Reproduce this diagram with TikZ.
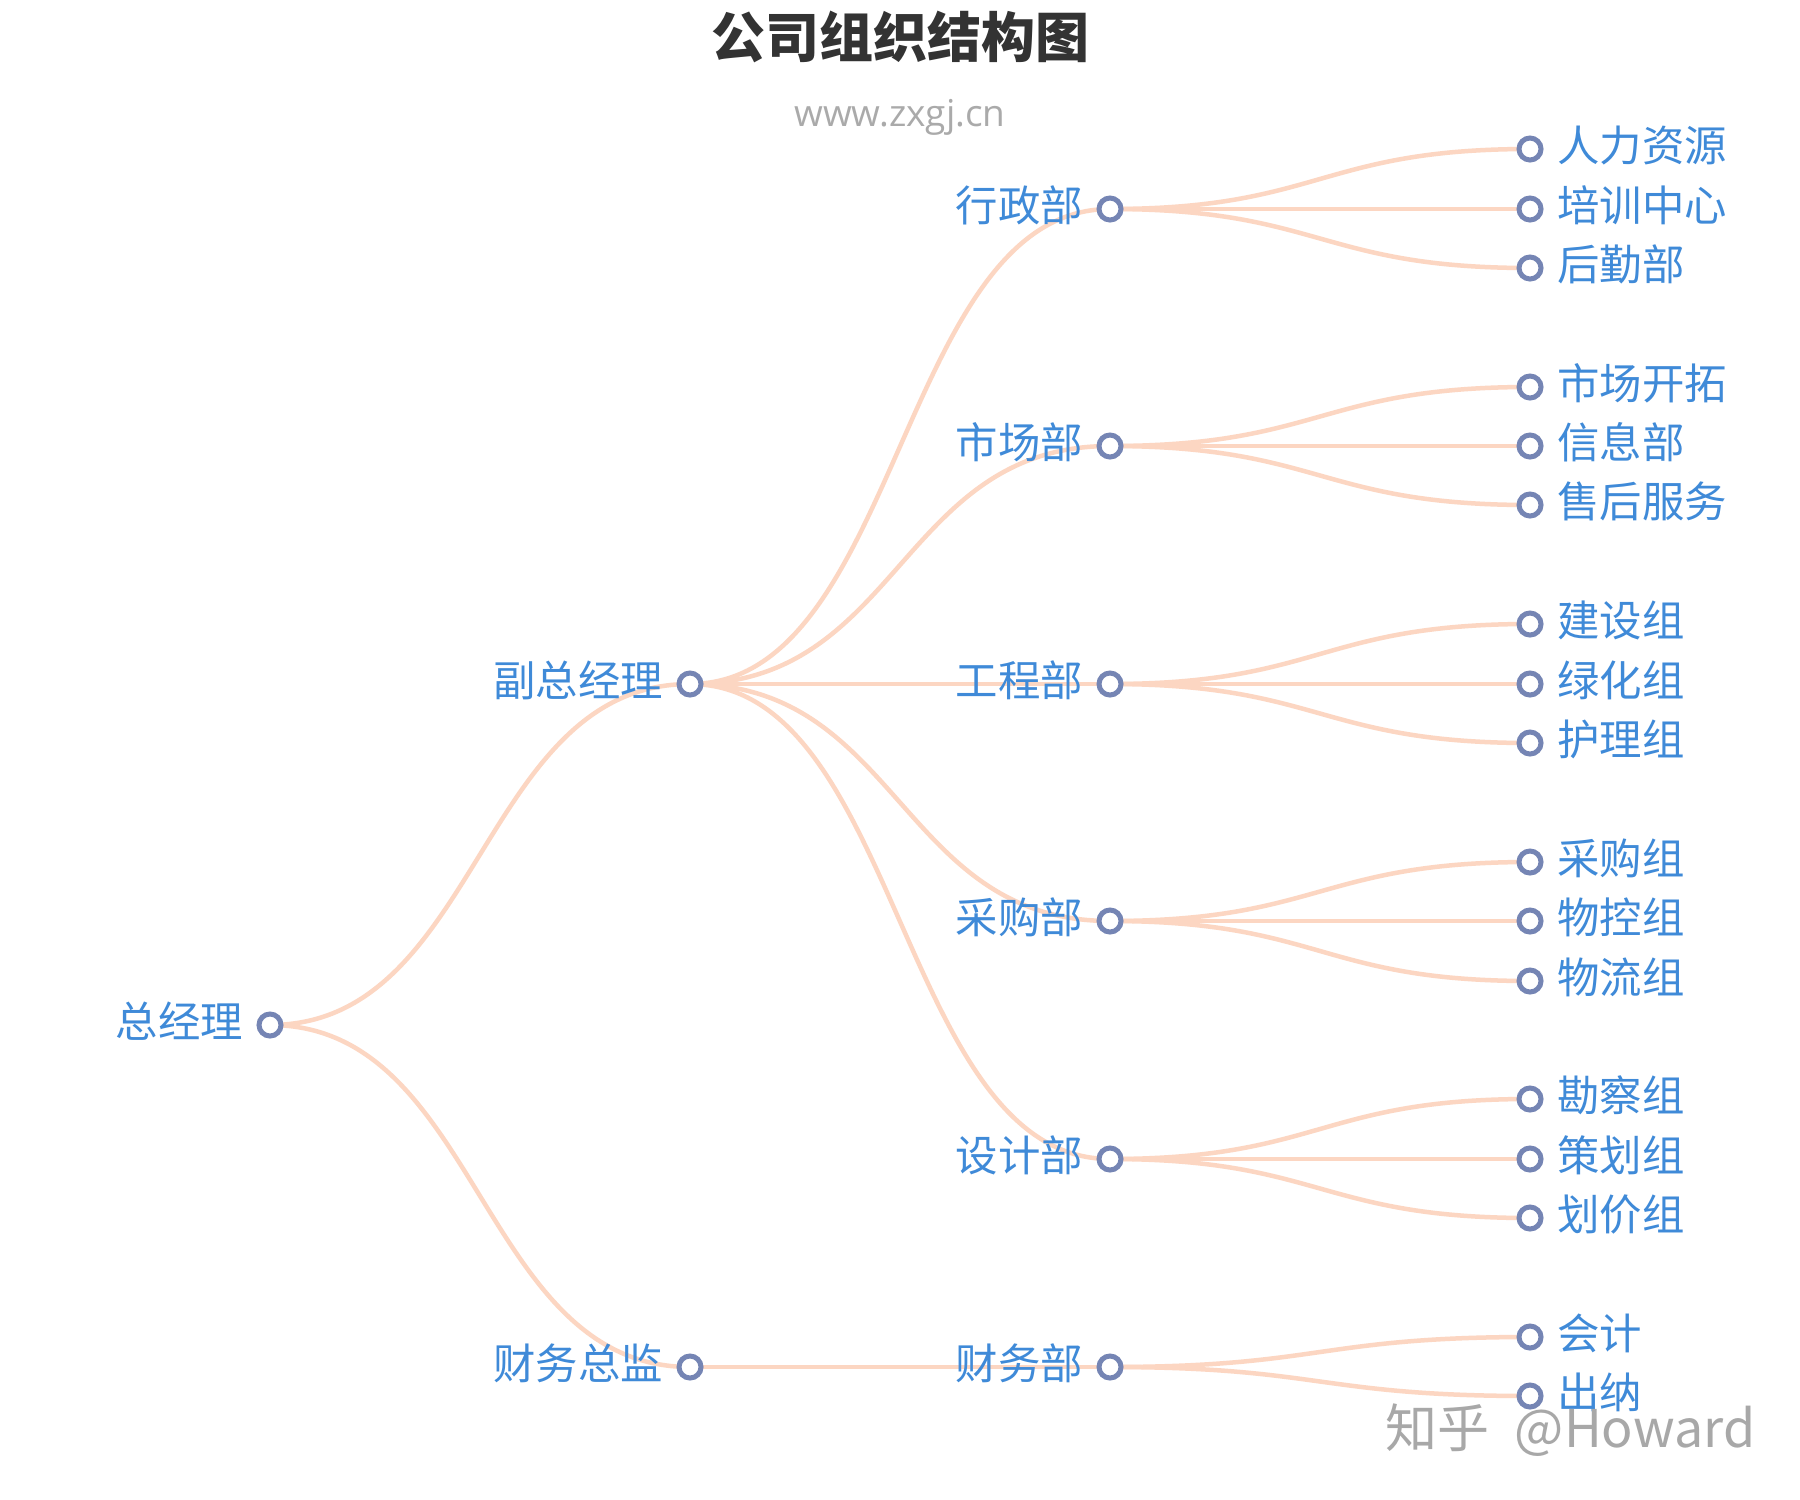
\documentclass[tikz,border=0pt]{standalone}
\usepackage{fontspec}
\setmainfont{Noto Sans CJK SC}
\newfontfamily\latinfont{Open Sans}
\usetikzlibrary{calc,backgrounds}
\definecolor{edgecol}{HTML}{FCD6C2}
\definecolor{dotcol}{HTML}{7585B4}
\definecolor{labcol}{HTML}{3F8AD8}
\definecolor{titlecol}{HTML}{333333}
\definecolor{subcol}{HTML}{AAAAAA}
\definecolor{markcol}{HTML}{A8A8A8}
\tikzset{
  dot/.style={circle,draw=dotcol,fill=white,line width=5pt,minimum size=22pt,inner sep=0pt},
  lab/.style={text=labcol,font=\fontsize{42.4}{42.4}\selectfont,inner sep=0pt,text height=36pt,text depth=6pt},
  edge/.style={draw=edgecol,line width=4.5pt},
}
\newcommand{\leftnode}[4]{%
  \node[dot] (#1) at (#2,#3) {};
  \node[lab,anchor=east] (#1t) at ([xshift=-27pt,yshift=3pt]#1.center) {#4};
}
\newcommand{\rightnode}[4]{%
  \node[dot] (#1) at (#2,#3) {};
  \node[lab,anchor=west] (#1t) at ([xshift=27pt,yshift=3pt]#1.center) {#4};
}
\begin{document}
\begin{tikzpicture}[x=1pt,y=-1pt]
\useasboundingbox (0,0) rectangle (1800,1500);
\node[font=\fontsize{54}{54}\bfseries\selectfont,text=titlecol,inner sep=0pt] (title) at (900,37) {公司组织结构图};
\node[font=\latinfont\fontsize{37}{37}\selectfont,text=subcol,inner sep=0pt] (sub) at (900,117) {www.zxgj.cn};

\leftnode{r}{270}{1025}{总经理}
\leftnode{a}{690}{684}{副总经理}
\leftnode{b}{690}{1367}{财务总监}
\leftnode{c1}{1110}{209}{行政部}
\leftnode{c2}{1110}{446}{市场部}
\leftnode{c3}{1110}{684}{工程部}
\leftnode{c4}{1110}{921}{采购部}
\leftnode{c5}{1110}{1159}{设计部}
\leftnode{c6}{1110}{1367}{财务部}
\rightnode{d11}{1530}{149}{人力资源}
\rightnode{d12}{1530}{209}{培训中心}
\rightnode{d13}{1530}{268}{后勤部}
\rightnode{d21}{1530}{387}{市场开拓}
\rightnode{d22}{1530}{446}{信息部}
\rightnode{d23}{1530}{505}{售后服务}
\rightnode{d31}{1530}{624}{建设组}
\rightnode{d32}{1530}{684}{绿化组}
\rightnode{d33}{1530}{743}{护理组}
\rightnode{d41}{1530}{862}{采购组}
\rightnode{d42}{1530}{921}{物控组}
\rightnode{d43}{1530}{981}{物流组}
\rightnode{d51}{1530}{1099}{勘察组}
\rightnode{d52}{1530}{1159}{策划组}
\rightnode{d53}{1530}{1218}{划价组}
\rightnode{d61}{1530}{1337}{会计}
\rightnode{d62}{1530}{1396}{出纳}

\begin{scope}[on background layer]
\fill[white] (0,0) rectangle (1800,1500);
\foreach \p/\q in {r/a,r/b,a/c1,a/c2,a/c3,a/c4,a/c5,b/c6,
  c1/d11,c1/d12,c1/d13,c2/d21,c2/d22,c2/d23,c3/d31,c3/d32,c3/d33,
  c4/d41,c4/d42,c4/d43,c5/d51,c5/d52,c5/d53,c6/d61,c6/d62}
  \draw[edge] (\p.center) .. controls ($(\p.center)!.5!(\p.center-|\q.center)$) and ($(\q.center)!.5!(\p.center|-\q.center)$) .. (\q.center);
\end{scope}

\node[font=\fontsize{52}{52}\selectfont,text=markcol,inner sep=0pt,anchor=west] (mark) at (1385,1430) {知乎\hspace{14pt} @Howard};
\end{tikzpicture}
\end{document}
